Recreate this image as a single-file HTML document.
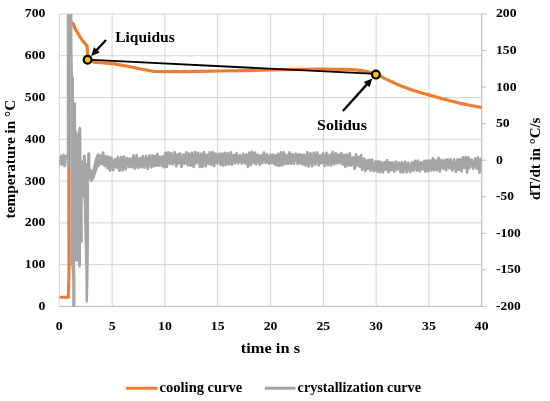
<!DOCTYPE html>
<html lang="en"><head><meta charset="utf-8"><title>Cooling curve</title>
<style>html,body{margin:0;padding:0;background:#fff}body{width:550px;height:401px;overflow:hidden}svg{display:block}text{font-family:"Liberation Serif","DejaVu Serif",serif;font-weight:bold;fill:#000}</style></head><body>
<svg width="550" height="401" viewBox="0 0 550 401">
<rect width="550" height="401" fill="#fff"/>
<defs><clipPath id="plot"><rect x="59.3" y="14" width="422.4" height="293"/></clipPath></defs>
<path d="M59.3 14H481.7M59.3 55.77H481.7M59.3 97.54H481.7M59.3 139.31H481.7M59.3 181.09H481.7M59.3 222.86H481.7M59.3 264.63H481.7M59.3 306.4H481.7M59.3 14V306.4M112.1 14V306.4M164.9 14V306.4M217.7 14V306.4M270.5 14V306.4M323.3 14V306.4M376.1 14V306.4M428.9 14V306.4M481.7 14V306.4" stroke="#D4D4D4" stroke-width="1" fill="none"/>
<path d="M481.7 14V306.4M59.3 306.4H481.7M481.7 14H486.3M481.7 50.55H486.3M481.7 87.1H486.3M481.7 123.65H486.3M481.7 160.2H486.3M481.7 196.75H486.3M481.7 233.3H486.3M481.7 269.85H486.3M481.7 306.4H486.3" stroke="#BFBFBF" stroke-width="1" fill="none"/>
<g clip-path="url(#plot)">
<polyline points="59.3,297.3 68.35,297.3 69,270 68.8,200 68.8,100" fill="none" stroke="#ED7D31" stroke-width="3.1" stroke-linejoin="miter" stroke-linecap="butt"/>
<polyline points="68.8,101 68.8,28 70.3,23 72,22.6 73.5,24.2 75,28.4 78,33.4 80.6,37.8 82.2,40.2 84.9,43.4 86.7,45.4 87.2,48 87.6,55 87.7,59.5 90,60.8 95.3,62.4 104,63 113,63.7 125,65.8 138.5,68.5 146,70 153.8,71.5 180,71.6 200,71.4 220,71 245,70.6 270,70 285,69.6 300,69.3 320,69.2 340,69.3 352,69.7 360,70.4 366,71.4 371,72.9 376,74.6 380.9,76.5 386,79.1 391.8,81.8 397,84.2 402.7,86.6 408,88.6 413.6,90.5 421,92.8 428.9,94.9 437,97.3 446.4,99.9 454,101.8 461.6,103.6 471,105.5 481.7,107.5" fill="none" stroke="#ED7D31" stroke-width="3.2" stroke-linejoin="round" stroke-linecap="butt"/>
<polygon points="66.75,168 66.75,0 71.2,0 71.2,54 69.75,55 69.3,90 69,130 69,168" fill="#A5A5A5"/>
<polygon points="70.35,0 72.4,0 72.5,50 72.9,70 73,76.6 74,77.2 74.1,102.3 76.1,103 76.2,131 77.4,131.5 77.7,134.5 78.1,134 78.3,129 79,127 79.8,126.4 80.6,127 81.3,129 81.6,160.6 82.8,160.6 82.85,156 83.5,154.7 84.4,154.2 85.4,154.7 86.05,156 86.15,163 87.05,163 87.15,154 87.9,152.4 88.7,151.9 89.6,152.4 90.35,154 90.4,168 92,170.5 93.5,165 95,158.5 96.6,154.3 98.5,153.3 99.5,153.5 99.5,166 98.5,167 96.6,171.8 94.7,177.4 93,180.8 91.3,182.5 90,181 89.1,178 89.05,235 88.6,275 88.05,300 87.7,302.2 86.78,303.1 85.85,302.2 85.5,300 85.4,275 84.5,240 83.75,205 83.4,197 82.75,196.5 82.8,242.5 81,242.5 81,265.5 80.5,267 79.5,267.7 78.6,267 78,265.5 78,261.5 75.1,261.5 75.5,280 75.5,320 72.2,320 72.2,280 71.3,265.5 70.35,265.5" fill="#A5A5A5"/>
<polyline points="59.3,165.05 60.91,155.9 62.31,164.44 63.47,154.87 64.66,165.82 65.88,155.82" fill="none" stroke="#A5A5A5" stroke-width="2.7" stroke-linejoin="round" stroke-linecap="round"/>
<polyline points="98.5,165.82 100.36,155.55 101.7,164.11 103.06,152.49 104.62,165.96 106.15,156.04 107.43,168.06 108.79,156.8 110.14,170.64 111.45,157.49 113.23,170.23 115.09,159.07 116.79,167.81 117.94,156.86 119.49,170.74 121.14,157.09 122.61,170.47 124.09,156.68 125.74,169.45 127.48,158.14 129.11,167.1 130.36,158.58 132.06,167.26 133.48,155.39 134.94,168.72 136.68,155.32 138.12,167.84 139.96,158.18 141.26,167.28 142.82,156.23 144.26,167.68 146.1,155.85 147.69,168.88 149.49,155.32 151.22,167.4 152.42,155.71 153.59,166.38 154.97,156.04 156.21,165.67 157.36,154.04 158.59,165.76 159.99,156.74 161.86,166.05 163.05,156.43 164.37,167.23 165.52,152.78 166.75,167.01 168.27,152.36 169.92,164.07 171.17,153.12 172.88,164.27 174.61,152.11 176.34,166.24 177.64,154.16 178.78,163.39 180.1,153.41 181.56,166.75 183.4,154.7 184.7,163.76 186.29,152.43 187.78,165.43 188.97,153.49 190.68,165.84 191.94,152.91 193.66,166.84 195.09,152.15 196.34,163.49 198.14,152.79 199.89,166.84 201.28,153.87 202.41,166.78 203.93,152.16 205.71,166.08 207.03,154.79 208.59,163.8 209.81,152.23 211.28,164.98 212.72,152.18 214.25,166.12 215.7,153.68 217.43,163.48 219.09,153.72 220.61,164.81 221.81,153.69 223.15,165.72 224.69,152.82 226.15,165.01 227.66,153.09 229.18,164.44 230.83,152.25 232.15,164.76 233.91,155.11 235.36,163.14 236.54,153.18 238.34,163.34 239.96,155.09 241.81,163.53 243.24,153.93 244.99,163.36 246.5,154.47 247.86,166.84 249.4,152.71 250.78,165.03 251.95,151.74 253.8,163.21 254.96,152.7 256.18,164.23 257.92,154.75 259.73,164.81 260.92,155.3 262.37,163.14 263.97,152.6 265.74,163.12 267.2,154.47 269.02,163.68 270.54,154.81 271.79,163.09 273.15,154.59 274.49,164.52 275.88,155.37 277.01,165.5 278.28,153.97 279.48,165.88 280.98,152.45 282.48,165.3 283.87,152.46 285.47,164.16 286.63,155.13 288.32,163.64 289.5,152.42 291.13,163.73 292.48,154.03 293.94,163.67 295.79,153.69 297.64,163.82 298.77,154.32 300.27,163.47 301.4,154.73 302.82,164.47 304.17,154.83 305.7,165.57 307.36,152.24 308.73,166.66 310.4,153.29 312.15,166.22 313.82,152.55 315.34,164.54 317.07,152.48 318.86,165.28 320.16,155.35 321.56,163.21 323.1,153.36 324.74,165.88 326.46,152.84 327.99,165.18 329.66,154.77 330.99,165.48 332.67,151.78 334.08,164.44 335.78,153.4 336.96,163.32 338.64,154.59 339.78,163.11 341.41,153.08 342.75,164.59 344.23,155.15 345.5,166.81 346.64,154.54 348.49,165.55 349.77,153.34 351.33,165.5 353.17,157.33 354.68,168.93 355.98,154.31 357.12,165.78 358.58,156.96 359.97,166.85 361.09,155.12 362.31,169.82 364.11,158.65 365.53,171.16 366.93,160.28 368.09,168.92 369.43,159.79 370.75,170.63 372.15,159.72 373.89,171.07 375.72,161.29 376.88,171.46 378.57,160.97 379.73,172.24 381.21,161.99 382.89,172.46 384.51,162.14 385.93,169.69 387.21,160.01 388.5,172.21 389.96,162.6 391.16,170.2 392.46,162.31 394.25,171.63 395.69,161.5 397.06,169.53 398.91,162.68 400.51,172.11 401.84,162.39 403.3,172.49 405.08,161.71 406.74,172.28 408.3,162.95 410.12,172.02 411.98,162.45 413.22,170.92 415.05,160.9 416.75,170.72 417.9,160.68 419.72,171.39 420.94,162.33 422.59,169.34 424.1,160.75 425.4,171.59 426.75,160.55 428.36,171.38 429.66,160.48 431.31,170.34 432.81,158.25 434.13,170.3 435.42,160.42 436.86,170.35 438.59,157.94 439.87,171.64 441.61,159.88 443.3,168.81 444.8,159.99 446.24,170.22 447.47,159.29 449.33,168.31 450.5,159.27 452.28,170.48 454.11,159.48 455.93,171.91 457.56,159.29 458.93,169.72 460.27,159.37 461.48,171.49 462.88,157.43 464.33,168 465.73,156.96 467.13,172.54 468.56,157.44 469.72,167.94 471.53,159.62 473.33,168.79 475.17,158.25 476.84,168.69 477.96,157.64 479.56,172.68 480.87,158.79" fill="none" stroke="#A5A5A5" stroke-width="2.7" stroke-linejoin="round" stroke-linecap="round"/>
</g>
<line x1="87.6" y1="59.7" x2="375.9" y2="73.9" stroke="#000" stroke-width="1.8"/>
<line x1="106" y1="40" x2="96.22" y2="50.57" stroke="#000" stroke-width="2.3"/><polygon points="91.2,56 94,47.15 99.8,52.52" fill="#000"/>
<line x1="342.9" y1="110.9" x2="367.34" y2="83.89" stroke="#000" stroke-width="2.3"/><polygon points="372.3,78.4 369.59,87.28 363.74,81.98" fill="#000"/>
<circle cx="87.6" cy="59.7" r="3.9" fill="#FFC000" stroke="#000" stroke-width="2.2"/>
<circle cx="375.9" cy="74.6" r="3.9" fill="#FFC000" stroke="#000" stroke-width="2.2"/>
<text x="45.3" y="17.05" font-size="13.4" text-anchor="end" textLength="20.5" lengthAdjust="spacingAndGlyphs">700</text>
<text x="45.3" y="59.22" font-size="13.4" text-anchor="end" textLength="20.5" lengthAdjust="spacingAndGlyphs">600</text>
<text x="45.3" y="100.99" font-size="13.4" text-anchor="end" textLength="20.5" lengthAdjust="spacingAndGlyphs">500</text>
<text x="45.3" y="142.76" font-size="13.4" text-anchor="end" textLength="20.5" lengthAdjust="spacingAndGlyphs">400</text>
<text x="45.3" y="184.54" font-size="13.4" text-anchor="end" textLength="20.5" lengthAdjust="spacingAndGlyphs">300</text>
<text x="45.3" y="226.31" font-size="13.4" text-anchor="end" textLength="20.5" lengthAdjust="spacingAndGlyphs">200</text>
<text x="45.3" y="268.08" font-size="13.4" text-anchor="end" textLength="20.5" lengthAdjust="spacingAndGlyphs">100</text>
<text x="45.3" y="309.85" font-size="13.4" text-anchor="end" textLength="6.9" lengthAdjust="spacingAndGlyphs">0</text>
<text x="496" y="17.05" font-size="13.4" text-anchor="start" textLength="20.5" lengthAdjust="spacingAndGlyphs">200</text>
<text x="496" y="54" font-size="13.4" text-anchor="start" textLength="20.5" lengthAdjust="spacingAndGlyphs">150</text>
<text x="496" y="90.55" font-size="13.4" text-anchor="start" textLength="20.5" lengthAdjust="spacingAndGlyphs">100</text>
<text x="496" y="127.1" font-size="13.4" text-anchor="start" textLength="13.7" lengthAdjust="spacingAndGlyphs">50</text>
<text x="496" y="163.65" font-size="13.4" text-anchor="start" textLength="6.9" lengthAdjust="spacingAndGlyphs">0</text>
<text x="496" y="200.2" font-size="13.4" text-anchor="start" textLength="17.9" lengthAdjust="spacingAndGlyphs">-50</text>
<text x="496" y="236.75" font-size="13.4" text-anchor="start" textLength="24.7" lengthAdjust="spacingAndGlyphs">-100</text>
<text x="496" y="273.3" font-size="13.4" text-anchor="start" textLength="24.7" lengthAdjust="spacingAndGlyphs">-150</text>
<text x="496" y="309.85" font-size="13.4" text-anchor="start" textLength="24.7" lengthAdjust="spacingAndGlyphs">-200</text>
<text x="59.3" y="329.6" font-size="13.4" text-anchor="middle" textLength="6.9" lengthAdjust="spacingAndGlyphs">0</text>
<text x="112.1" y="329.6" font-size="13.4" text-anchor="middle" textLength="6.9" lengthAdjust="spacingAndGlyphs">5</text>
<text x="164.9" y="329.6" font-size="13.4" text-anchor="middle" textLength="13.7" lengthAdjust="spacingAndGlyphs">10</text>
<text x="217.7" y="329.6" font-size="13.4" text-anchor="middle" textLength="13.7" lengthAdjust="spacingAndGlyphs">15</text>
<text x="270.5" y="329.6" font-size="13.4" text-anchor="middle" textLength="13.7" lengthAdjust="spacingAndGlyphs">20</text>
<text x="323.3" y="329.6" font-size="13.4" text-anchor="middle" textLength="13.7" lengthAdjust="spacingAndGlyphs">25</text>
<text x="376.1" y="329.6" font-size="13.4" text-anchor="middle" textLength="13.7" lengthAdjust="spacingAndGlyphs">30</text>
<text x="428.9" y="329.6" font-size="13.4" text-anchor="middle" textLength="13.7" lengthAdjust="spacingAndGlyphs">35</text>
<text x="481.7" y="329.6" font-size="13.4" text-anchor="middle" textLength="13.7" lengthAdjust="spacingAndGlyphs">40</text>
<text x="270.4" y="353" font-size="14.67" text-anchor="middle" textLength="59.3" lengthAdjust="spacingAndGlyphs">time in s</text>
<text transform="translate(15.4,159.1) rotate(-90)" font-size="14.67" text-anchor="middle" textLength="118.7" lengthAdjust="spacingAndGlyphs">temperature in °C</text>
<text transform="translate(540.3,158.8) rotate(-90)" font-size="14.67" text-anchor="middle" textLength="82.5" lengthAdjust="spacingAndGlyphs">dT/dt in °C/s</text>
<text x="115.2" y="42.4" font-size="15.1" text-anchor="start" textLength="59.5" lengthAdjust="spacingAndGlyphs">Liquidus</text>
<text x="317" y="130.2" font-size="15.1" text-anchor="start" textLength="50" lengthAdjust="spacingAndGlyphs">Solidus</text>
<line x1="125.8" y1="388.2" x2="157.6" y2="388.2" stroke="#ED7D31" stroke-width="3"/>
<text x="159.6" y="392.4" font-size="13.7" text-anchor="start" textLength="82.7" lengthAdjust="spacingAndGlyphs">cooling curve</text>
<line x1="264.9" y1="388.2" x2="295.4" y2="388.2" stroke="#A5A5A5" stroke-width="3"/>
<text x="297.6" y="392.4" font-size="13.7" text-anchor="start" textLength="123.4" lengthAdjust="spacingAndGlyphs">crystallization curve</text>
</svg></body></html>
